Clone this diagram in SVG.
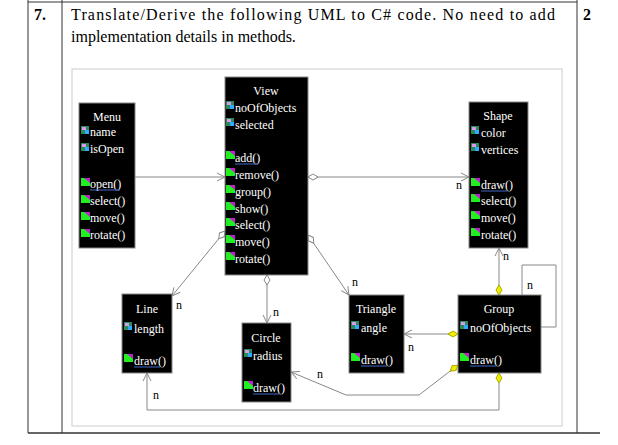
<svg xmlns="http://www.w3.org/2000/svg" width="618" height="445" viewBox="0 0 618 445">
<defs>
<style>
.t{font-family:"Liberation Serif",serif;fill:#fff;font-size:12px}
.tc{font-family:"Liberation Serif",serif;fill:#fff;font-size:12px;text-anchor:middle}
.box{fill:#000;stroke:#888;stroke-width:1}
.c{fill:none;stroke:#888;stroke-width:1}
.lbl{font-family:"Liberation Serif",serif;font-size:12px;fill:#000}
.hd{font-family:"Liberation Serif",serif;font-size:16px;fill:#000}
.u{stroke:#4466cc;stroke-width:1}
</style>
<g id="ai"><rect x="0" y="-8" width="8" height="8" fill="#2a8a5a"/><rect x="1" y="-7" width="4" height="3" fill="#d9e"/><rect x="4" y="-4" width="4" height="4" fill="#3af"/></g>
<g id="mi"><rect x="0" y="-8" width="9" height="8" fill="#2e2"/><polygon points="3,-8 9,-8 9,-3" fill="#b2c"/></g>
<marker id="ar" markerWidth="10" markerHeight="10" refX="9" refY="5" orient="auto" markerUnits="userSpaceOnUse"><path d="M1,1 L9,5 L1,9" fill="none" stroke="#888"/></marker>
<marker id="dh" markerWidth="14" markerHeight="10" refX="1" refY="5" orient="auto" markerUnits="userSpaceOnUse"><path d="M1,5 L6,2 L11,5 L6,8 Z" fill="#fff" stroke="#888"/></marker>
<marker id="dy" markerWidth="14" markerHeight="10" refX="1" refY="5" orient="auto" markerUnits="userSpaceOnUse"><path d="M1,5 L6,2 L11,5 L6,8 Z" fill="#ee0" stroke="#aa0"/></marker>
</defs>
<rect width="618" height="445" fill="#fff"/>
<g id="table" stroke="#333" fill="none">
<line x1="28" y1="2" x2="577" y2="2"/>
<line x1="28" y1="0" x2="28" y2="433"/>
<line x1="62" y1="0" x2="62" y2="433"/>
<line x1="577" y1="0" x2="577" y2="433"/>
<line x1="28" y1="433" x2="600" y2="433" stroke-width="1.5"/>
</g>
<text x="34" y="20" class="hd" font-weight="bold">7.</text>
<text x="71" y="20" class="hd" textLength="484" lengthAdjust="spacing">Translate/Derive the following UML to C# code. No need to add</text>
<text x="71" y="42" class="hd">implementation details in methods.</text>
<text x="583" y="20" class="hd" font-weight="bold">2</text>
<rect x="72" y="69" width="490" height="357" fill="none" stroke="#ccc"/>
<g id="connectors">
<line x1="135" y1="177" x2="225" y2="177" class="c" marker-end="url(#ar)"/>
<line x1="308" y1="177" x2="469" y2="177" class="c" marker-start="url(#dh)" marker-end="url(#ar)"/>
<line x1="225" y1="231" x2="172" y2="296" class="c" marker-start="url(#dh)" marker-end="url(#ar)"/>
<line x1="267" y1="275" x2="267" y2="323" class="c" marker-start="url(#dh)" marker-end="url(#ar)"/>
<line x1="308" y1="235" x2="349" y2="295" class="c" marker-start="url(#dh)" marker-end="url(#ar)"/>
<line x1="499" y1="295" x2="499" y2="248" class="c" marker-start="url(#dy)" marker-end="url(#ar)"/>
<polyline points="522,295 522,265 556,265 556,327 541,327" class="c" marker-end="url(#dy)"/>
<line x1="458" y1="334" x2="404" y2="334" class="c" marker-start="url(#dy)" marker-end="url(#ar)"/>
<polyline points="458,365 419,395 346,395 291,372" class="c" marker-start="url(#dy)" marker-end="url(#ar)"/>
<polyline points="499,373 499,410 147,410 147,373" class="c" marker-start="url(#dy)" marker-end="url(#ar)"/>
<text x="456" y="189" class="lbl">n</text>
<text x="176" y="309" class="lbl">n</text>
<text x="273" y="316" class="lbl">n</text>
<text x="352" y="286" class="lbl">n</text>
<text x="503" y="260" class="lbl">n</text>
<text x="527" y="289" class="lbl">n</text>
<text x="408" y="351" class="lbl">n</text>
<text x="317" y="378" class="lbl">n</text>
<text x="153" y="399" class="lbl">n</text>
</g>
<g id="Menu">
<rect x="79" y="103" width="56" height="145" class="box"/>
<text x="107" y="121" class="tc">Menu</text>
<use href="#ai" x="81" y="134"/><text x="90" y="136" class="t">name</text>
<use href="#ai" x="81" y="151"/><text x="90" y="153" class="t">isOpen</text>
<use href="#mi" x="81" y="186"/><text x="90" y="188" class="t">open()</text><line x1="90" y1="190" x2="120" y2="190" class="u"/>
<use href="#mi" x="81" y="203"/><text x="90" y="205" class="t">select()</text>
<use href="#mi" x="81" y="220"/><text x="90" y="222" class="t">move()</text>
<use href="#mi" x="81" y="237"/><text x="90" y="239" class="t">rotate()</text>
</g>
<g id="View">
<rect x="225" y="77" width="83" height="198" class="box"/>
<text x="266" y="95" class="tc">View</text>
<use href="#ai" x="226" y="109"/><text x="235" y="112" class="t">noOfObjects</text>
<use href="#ai" x="226" y="126"/><text x="235" y="129" class="t">selected</text>
<use href="#mi" x="226" y="159"/><text x="235" y="162" class="t">add()</text><line x1="235" y1="164" x2="258" y2="164" class="u"/>
<use href="#mi" x="226" y="176"/><text x="235" y="179" class="t">remove()</text>
<use href="#mi" x="226" y="193"/><text x="235" y="196" class="t">group()</text>
<use href="#mi" x="226" y="210"/><text x="235" y="213" class="t">show()</text>
<use href="#mi" x="226" y="226"/><text x="235" y="229" class="t">select()</text>
<use href="#mi" x="226" y="243"/><text x="235" y="246" class="t">move()</text>
<use href="#mi" x="226" y="260"/><text x="235" y="263" class="t">rotate()</text>
</g>
<g id="Shape">
<rect x="469" y="102" width="59" height="146" class="box"/>
<text x="498" y="120" class="tc">Shape</text>
<use href="#ai" x="471" y="134"/><text x="481" y="137" class="t">color</text>
<use href="#ai" x="471" y="151"/><text x="481" y="154" class="t">vertices</text>
<use href="#mi" x="471" y="186"/><text x="481" y="189" class="t">draw()</text><line x1="481" y1="191" x2="507" y2="191" class="u"/>
<use href="#mi" x="471" y="202"/><text x="481" y="205" class="t">select()</text>
<use href="#mi" x="471" y="219"/><text x="481" y="222" class="t">move()</text>
<use href="#mi" x="471" y="236"/><text x="481" y="239" class="t">rotate()</text>
</g>
<g id="Line">
<rect x="122" y="294" width="50" height="79" class="box"/>
<text x="147" y="313" class="tc">Line</text>
<use href="#ai" x="124" y="330"/><text x="134" y="333" class="t">length</text>
<use href="#mi" x="124" y="362"/><text x="134" y="365" class="t">draw()</text><line x1="134" y1="367" x2="160" y2="367" class="u"/>
</g>
<g id="Circle">
<rect x="242" y="323" width="49" height="79" class="box"/>
<text x="266" y="342" class="tc">Circle</text>
<use href="#ai" x="244" y="357"/><text x="253" y="360" class="t">radius</text>
<use href="#mi" x="244" y="389"/><text x="253" y="392" class="t">draw()</text><line x1="253" y1="394" x2="279" y2="394" class="u"/>
</g>
<g id="Triangle">
<rect x="349" y="295" width="55" height="78" class="box"/>
<text x="376" y="313" class="tc">Triangle</text>
<use href="#ai" x="351" y="329"/><text x="361" y="332" class="t">angle</text>
<use href="#mi" x="351" y="361"/><text x="361" y="364" class="t">draw()</text><line x1="361" y1="366" x2="387" y2="366" class="u"/>
</g>
<g id="Group">
<rect x="458" y="295" width="83" height="78" class="box"/>
<text x="499" y="313" class="tc">Group</text>
<use href="#ai" x="460" y="329"/><text x="470" y="332" class="t">noOfObjects</text>
<use href="#mi" x="460" y="361"/><text x="470" y="364" class="t">draw()</text><line x1="470" y1="366" x2="496" y2="366" class="u"/>
</g>
</svg>
